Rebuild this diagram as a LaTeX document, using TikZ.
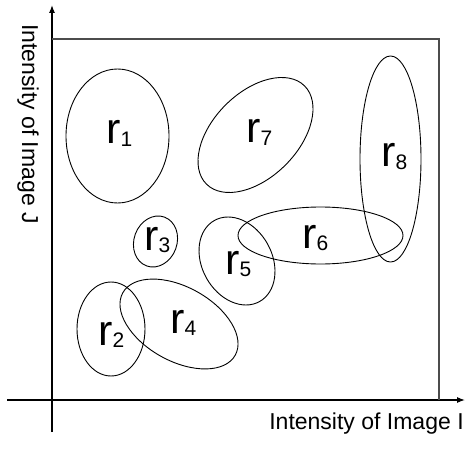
\documentclass[tikz,border=0pt]{standalone}
\usepackage{fontspec}
\setmainfont{Liberation Sans}
\usetikzlibrary{positioning, arrows.meta, calc}

\newcommand{\regname}[1]{{\fontsize{43}{43}\selectfont r}\raisebox{-2.5pt}{\fontsize{21}{21}\selectfont #1}}

\begin{document}
\begin{tikzpicture}[x=1pt, y=1pt,
	region/.style={draw, line width=0.9pt},
	rlabel/.style={anchor=base west, inner sep=0pt},
	axislabel/.style={anchor=base, inner sep=0pt, font=\fontsize{23}{23}\selectfont},
	axis/.style={draw, line width=1.1pt, -{Latex[length=8pt, width=6pt]}}]
	\useasboundingbox (0,0) rectangle (474,448);
	% Axes and frame
	\coordinate (yfoot) at (52,16);
	\coordinate (ytop) at (52,443);
	\coordinate (xfoot) at (7,48);
	\coordinate (xend) at (465,48);
	\coordinate (boxtl) at (52,409);
	\coordinate (boxtr) at (439,409);
	\coordinate (boxbr) at (439,48);
	\draw[axis] (yfoot) -- (ytop);
	\draw[axis] (xfoot) -- (xend);
	\draw[line width=1.4pt, black!70] (boxtl) -- (boxtr) -- (boxbr);
	\node[axislabel, rotate=-90] (ylabel) at (22,324) {Intensity of Image J};
	\node[axislabel] (xlabel) at (366.5,19) {Intensity of Image I};

	% Regions
	\coordinate (c1) at (117.5,312);
	\coordinate (c2) at (111,119);
	\coordinate (c3) at (155.5,206.5);
	\coordinate (c4) at (179,124);
	\coordinate (c5) at (237,187);
	\coordinate (c6) at (320.5,212.5);
	\coordinate (c7) at (255.5,313);
	\coordinate (c8) at (390.5,289);
	\draw[region] (c1) ellipse [x radius=51.5pt, y radius=67pt];
	\draw[region] (c2) ellipse [x radius=34pt, y radius=47pt];
	\draw[region, rotate around={-20:(c3)}] (c3) ellipse [x radius=21.5pt, y radius=26pt];
	\draw[region, rotate around={-29:(c4)}] (c4) ellipse [x radius=64.3pt, y radius=37pt];
	\draw[region, rotate around={29:(c5)}] (c5) ellipse [x radius=35pt, y radius=46.4pt];
	\draw[region] (c6) ellipse [x radius=82.5pt, y radius=28.5pt];
	\draw[region, rotate around={45:(c7)}] (c7) ellipse [x radius=69.4pt, y radius=42.4pt];
	\draw[region] (c8) ellipse [x radius=30.5pt, y radius=103pt];

	% Labels
	\node[rlabel] (r1) at (106,304) {\regname{1}};
	\node[rlabel] (r2) at (98,103) {\regname{2}};
	\node[rlabel] (r3) at (144,198) {\regname{3}};
	\node[rlabel] (r4) at (170,115) {\regname{4}};
	\node[rlabel] (r5) at (225,174) {\regname{5}};
	\node[rlabel] (r6) at (302,200) {\regname{6}};
	\node[rlabel] (r7) at (246,305) {\regname{7}};
	\node[rlabel] (r8) at (381,281) {\regname{8}};
\end{tikzpicture}
\end{document}
